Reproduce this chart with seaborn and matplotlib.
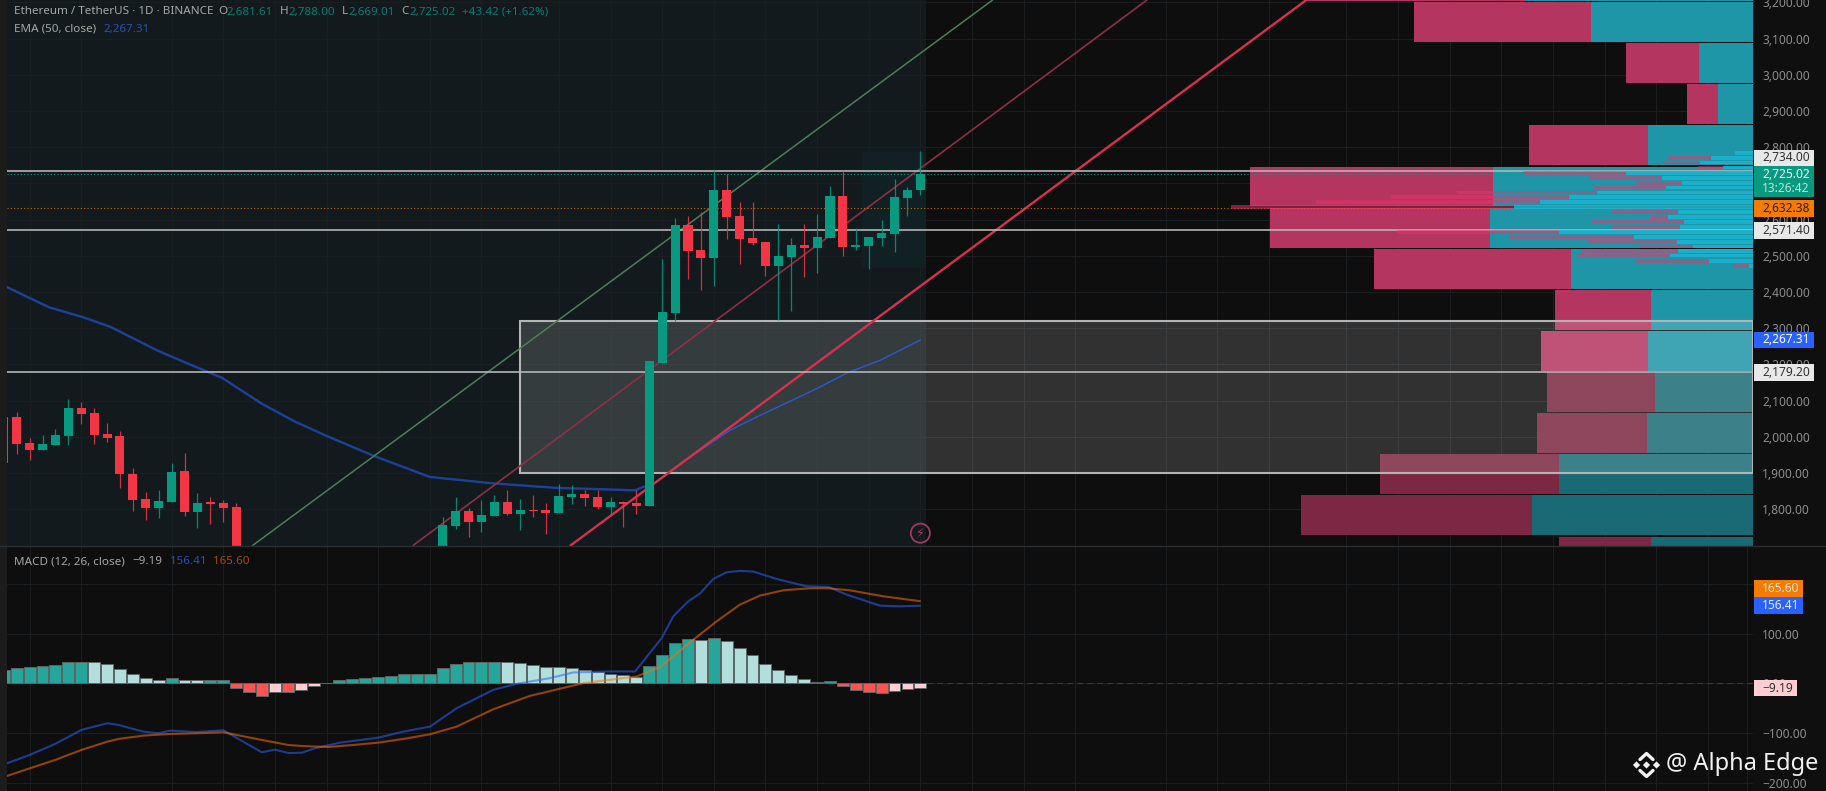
import matplotlib
matplotlib.use("Agg")
import numpy as np
import pandas as pd
import seaborn as sns
import matplotlib.pyplot as plt
from matplotlib.lines import Line2D
from matplotlib.patches import Rectangle, RegularPolygon
from matplotlib.transforms import IdentityTransform

W, H = 1826, 791

# candles (index 18..32 sit below the visible range, so they are left out)
candle_idx = [-1, 0, 1, 2, 3, 4, 5, 6, 7, 8, 9, 10, 11, 12, 13, 14, 15, 16, 17,
              33, 34, 35, 36, 37, 38, 39, 40, 41, 42, 43, 44, 45, 46, 47, 48, 49, 50,
              51, 52, 53, 54, 55, 56, 57, 58, 59, 60, 61, 62, 63, 64, 65, 66, 67, 68, 69, 70]
opens = [1928, 2054, 1983, 1964, 1978, 2003, 2079, 2065, 2007, 2002, 1897, 1828, 1804, 1820, 1905, 1793, 1819, 1817, 1806,
         1670, 1753, 1795, 1764, 1781, 1819, 1787, 1797, 1797, 1790, 1835, 1841, 1835, 1807, 1819, 1817, 1808, 2203,
         2342, 2584, 2515, 2493, 2681, 2609, 2549, 2538, 2471, 2496, 2529, 2521, 2548, 2665, 2524, 2526, 2548, 2559, 2659, 2681.61]
closes = [2054, 1981, 1964, 1980, 2004, 2079, 2063, 2006, 1998, 1896, 1826, 1804, 1822, 1904, 1793, 1817, 1815, 1804, 1650,
          1755, 1795, 1765, 1783, 1819, 1787, 1797, 1795, 1790, 1836, 1841, 1831, 1806, 1820, 1813, 1810, 2208, 2345,
          2584, 2513, 2493, 2681, 2606, 2546, 2535, 2471, 2499, 2529, 2521, 2551, 2665, 2524, 2529, 2551, 2562, 2662, 2681, 2725.02]
highs = [2054, 2068, 1997, 2006, 2022, 2103, 2096, 2080, 2038, 2016, 1913, 1847, 1853, 1927, 1955, 1845, 1833, 1826, 1818,
         1778, 1833, 1804, 1824, 1838, 1854, 1827, 1840, 1818, 1870, 1868, 1852, 1852, 1833, 1822, 1852, 2208, 2492,
         2603, 2609, 2621, 2738, 2725, 2649, 2649, 2538, 2587, 2549, 2587, 2615, 2693, 2734, 2577, 2551, 2600, 2711, 2689, 2788]
lows = [1928, 1953, 1935, 1964, 1978, 1978, 2034, 1981, 1985, 1859, 1796, 1769, 1776, 1820, 1781, 1748, 1760, 1764, 1640,
        1660, 1746, 1723, 1738, 1781, 1783, 1743, 1778, 1732, 1790, 1813, 1810, 1801, 1785, 1750, 1787, 1808, 2203,
        2317, 2435, 2405, 2417, 2546, 2476, 2529, 2444, 2322, 2347, 2442, 2451, 2548, 2499, 2515, 2463, 2526, 2510, 2609, 2669.01]

# EMA 50, heavy part before the breakout and the thin part after it
ema_old_idx = [-0.79, 1.37, 2.56, 5.08, 7.3, 10.86, 12.94, 15.9, 19, 21.5, 23.9, 27.6, 32, 36.7, 41.7, 45.3, 47.9, 48.5, 49.3]
ema_old_val = [2414, 2377, 2357, 2331, 2303, 2239, 2207, 2163, 2091, 2043, 2004, 1948, 1889, 1872, 1859, 1855, 1852, 1861, 1870]
ema_new_idx = [49.3, 52, 55.25, 57.58, 61.97, 64.3, 66.87, 70]
ema_new_val = [1870, 1940, 2018, 2059, 2133, 2176, 2211, 2267.31]

# trend lines: (index, price) at both ends
green_line = ([18.27, 75.6], [1699.7, 3206.4])
thin_red_line = ([30.7, 87.55], [1699.7, 3206.4])
thick_red_line = ([42.9, 99.9], [1699.7, 3206.4])

level_prices = [2734.0, 2571.4, 2179.2]
zone_low, zone_high = 1899, 2319

# volume profile, coarse rows
vp_price = [3259, 3145, 3032, 2919, 2805, 2691, 2577, 2464, 2350, 2237, 2123, 2010, 1897, 1783, 1669]
vp_buy = [228, 161.8, 54, 35, 105, 259.6, 263, 182, 102, 105, 98, 106, 193.7, 221, 102]
vp_sell = [220, 176.8, 72.7, 31, 119.5, 243.4, 220, 197.4, 96.5, 106.7, 107.7, 110.5, 179.7, 231.4, 92.5]
vp_old = [False] * 10 + [True] * 5

# volume profile, fine rows
fine_price = [2784, 2770, 2757, 2743, 2729, 2715, 2701, 2688, 2675, 2662, 2649, 2635,
              2621, 2607, 2593, 2580, 2566, 2552, 2538, 2526, 2513, 2500, 2486, 2472]
fine_buy = [18.4, 42.3, 53.5, 30.3, 127.4, 91, 71, 87, 156, 183.6, 213, 239,
            75, 85.4, 69.5, 73.5, 194, 119.4, 75.9, 60.3, 75, 83, 44.3, 4.4]
fine_sell = [0, 43.9, 36.7, 24.8, 102.6, 71.9, 45.9, 71.9, 140.5, 178, 223.6, 283,
             65.9, 18, 91.4, 67.9, 161.7, 123.8, 89.4, 53.9, 95.8, 91.8, 72.7, 16]

# MACD pane
hist_idx = list(range(-1, 71))
hist_val = [27, 30, 32, 34, 36, 42, 44, 42, 38, 28, 18, 10, 6, 10, 6, 6, 6, 6, -10, -18, -26, -18, -18, -14, -6, 1,
            6, 8, 10, 12, 14, 18, 18, 18, 30, 38, 42, 44, 44, 42, 40, 36, 32, 32, 30, 26, 22, 18, 16, 12,
            34, 57, 81, 89, 87, 91, 85, 71, 57, 38, 26, 16, 8, 2, 4, -6, -14, -18, -20, -16, -12, -9.19]
hist_state = (["g"] * 7 + ["l"] * 6 + ["g"] + ["l"] * 2 + ["g"] * 2 + ["r"] * 3 + ["p"] + ["r"] + ["p"] * 2 + ["l"]
              + ["g"] * 13 + ["l"] * 11 + ["g"] * 4 + ["l"] + ["g"] + ["l"] * 8 + ["g"] + ["r"] * 4 + ["p"] * 3)
macd_idx = [-0.77, 1.0, 2.97, 5.01, 7.02, 7.88, 9.81, 10.97, 11.88, 13.94, 16.01, 18.98, 20.01, 21.04, 22.08, 23.1,
            25.05, 28.02, 29.95, 32.02, 34.08, 36.92, 38.72, 41.3, 43.1, 45.7, 47.9, 49.96, 50.86, 52.02, 52.92,
            53.96, 54.99, 56.02, 57.06, 58.86, 61.19, 62.87, 64.29, 66.87, 68.42, 69.97]
macd_val = [-161.3, -144.4, -122.2, -93.9, -80.5, -83.8, -97.3, -100.7, -95.3, -98, -94.6, -139, -133.7, -140.4, -139.7, -131,
            -119.5, -109.4, -97.3, -87.2, -50.2, -13.1, -1, 10.4, 21.9, 23.9, 23.9, 91.2, 135, 165.3, 180.8,
            210.4, 223.9, 226.6, 225.3, 210.4, 195.6, 194.3, 178.8, 156.6, 155.2, 156.41]
signal_idx = [-0.77, 1.0, 2.97, 5.01, 7.02, 7.88, 9.81, 11.88, 13.94, 16.01, 18.98, 21.04, 22.08, 24.14, 26.08, 28.02,
              29.95, 32.02, 34.08, 36.92, 39.76, 43.89, 45.95, 48.02, 49.83, 52.41, 54.22, 56.02, 57.57, 59.38,
              61.45, 62.87, 64.54, 67.13, 69.97]
signal_val = [-186.9, -171.4, -154.5, -134.3, -117.5, -112.1, -105.4, -102, -100.7, -98.7, -114.1, -124.2, -126.3, -128.3, -124.2, -119.5,
              -112.1, -102.7, -87.2, -52.2, -25.3, 0.4, 7.1, 13.8, 32.7, 87.9, 124.9, 158.6, 176.8, 187.5,
              191.6, 191.6, 187.5, 175.4, 165.6]

grid_idx = [1, 5, 12, 16, 20, 24, 28, 32, 36, 42, 46, 50, 54, 58, 62, 66, 70, 74, 78, 82, 89,
            93, 97, 103, 107, 111, 115, 119, 123, 127, 131, 134]
price_ticks = list(range(1800, 3300, 100))
macd_ticks = [-200, -100, 0, 100, 200]
macd_tick_labels = ["−200.00", "−100.00", "0.00", "100.00", "200.00"]

BG = "#0e0e0e"
TINT = "#121a1d"
GRID = "#1a1e20"
AXIS_TXT = "#8c8c8c"
UP = "#089981"
DOWN = "#f23645"
LEVEL = "#b4b4b4"
X_MIN, X_MAX = -0.79, 134.5
PX_PER_BAR = 12.91
PANE_SPLIT = 545.5

sns.set_theme(style="dark", rc={"axes.facecolor": BG, "figure.facecolor": "#0f0f0f"})
plt.rcParams["font.family"] = ["Noto Sans", "DejaVu Sans"]

fig = plt.figure(figsize=(W / 100, H / 100), dpi=100)
ax = fig.add_axes([6.5 / W, 1 - PANE_SPLIT / H, (1753 - 6.5) / W, PANE_SPLIT / H])
ax2 = fig.add_axes([6.5 / W, 0, (1753 - 6.5) / W, (H - PANE_SPLIT) / H])


def style_axis(a, ticks, labels):
    a.set_xticks(grid_idx)
    a.set_yticks(ticks)
    a.set_yticklabels(labels, color=AXIS_TXT, fontsize=8.6)
    a.yaxis.tick_right()
    a.tick_params(axis="y", length=0, pad=6.5)
    a.tick_params(axis="x", length=0, labelbottom=False)
    a.grid(True, color=GRID, lw=0.8)
    a.set_axisbelow(True)
    a.set(xlabel=None, ylabel=None)
    for s in a.spines.values():
        s.set_visible(False)


# background shading of the date range
ax.axvspan(X_MIN, 70.43, color=TINT, lw=0, zorder=0)
ax.fill_between([65.5, 70.43], 2465, 2786, color="#112023", lw=0, zorder=0.6)

# coarse volume profile, growing from the right edge
buy_w = np.array(vp_buy) / PX_PER_BAR
sell_w = np.array(vp_sell) / PX_PER_BAR
buy_col = ["#1a6a75" if o else "#1f95a8" for o in vp_old]
sell_col = ["#7c2743" if o else "#b33560" for o in vp_old]
ax.barh(vp_price, -buy_w, left=X_MAX, height=109.8, color=buy_col, lw=0, zorder=2)
ax.barh(vp_price, -sell_w, left=X_MAX - buy_w, height=109.8, color=sell_col, lw=0, zorder=2)

# box zone
ax.add_patch(Rectangle((39, zone_low), X_MAX - 39, zone_high - zone_low,
                       facecolor=(1, 1, 1, 0.15), edgecolor=LEVEL, lw=1.5, zorder=3))

# EMA stays under the trend lines
sns.lineplot(x=ema_old_idx, y=ema_old_val, color="#2962ff", alpha=0.55, lw=1.7, ax=ax,
             estimator=None, sort=False, zorder=3.5)
sns.lineplot(x=ema_new_idx, y=ema_new_val, color="#2962ff", alpha=0.75, lw=1.0, ax=ax,
             estimator=None, sort=False, zorder=3.5)

# trend lines and levels
ax.plot(*green_line, color="#4f7d58", lw=1.1, zorder=4)
ax.plot(*thin_red_line, color="#8f2f45", lw=1.2, zorder=4)
ax.plot(*thick_red_line, color="#d6324f", lw=1.7, zorder=4)
for p in level_prices:
    ax.axhline(p, color=LEVEL, lw=1.2, zorder=4)
ax.axhline(closes[-1], color=UP, lw=0.8, ls=(0, (1, 2)), zorder=4)
ax.axhline(2632.38, color="#f57c00", lw=0.8, ls=(0, (1, 2)), alpha=0.8, zorder=4)

# fine volume profile rows on top of the levels
fbuy = np.array(fine_buy) / PX_PER_BAR
fsell = np.array(fine_sell) / PX_PER_BAR
ax.barh(fine_price, -fbuy, left=X_MAX, height=9.5, color="#1ab4cf", alpha=0.9, lw=0, zorder=4.5)
ax.barh(fine_price, -fsell, left=X_MAX - fbuy, height=9.5, color="#f0326e", alpha=0.5, lw=0, zorder=4.5)

# candles
cols = [UP if c >= o else DOWN for o, c in zip(opens, closes)]
ax.vlines(candle_idx, lows, highs, colors=cols, lw=0.9, alpha=0.85, zorder=5)
ax.bar(candle_idx, np.array(closes) - np.array(opens), bottom=opens, width=0.7, color=cols, lw=0, zorder=5.5)

# replay marker
ax.scatter([70], [1733.7], s=190, facecolor="none", edgecolor="#9b3a63", lw=1.3, zorder=6)
ax.text(70, 1733.7, "⚡", color="#9b3a63", fontsize=9, ha="center", va="center",
        family="DejaVu Sans", zorder=6)

style_axis(ax, price_ticks, [f"{p:,.2f}" for p in price_ticks])
ax.set_xlim(X_MIN, X_MAX)
ax.set_ylim(1699.7, 3206.4)

# MACD histogram and lines
hist_df = pd.DataFrame({"idx": hist_idx, "hist": hist_val, "state": hist_state})
sns.barplot(data=hist_df, x="idx", y="hist", hue="state", ax=ax2, native_scale=True, dodge=False,
            palette={"g": "#26a69a", "l": "#b2dfdb", "r": "#ff5252", "p": "#ffcdd2"},
            saturation=1, width=0.92, edgecolor="#5c6666", linewidth=0.7, legend=False, zorder=2)
ax2.axhline(0, color="#3a3a3a", lw=0.8, ls=(0, (5, 4)), zorder=1)
sns.lineplot(x=macd_idx, y=macd_val, color="#2962ff", alpha=0.55, lw=1.5, ax=ax2,
             estimator=None, sort=False, zorder=3)
sns.lineplot(x=signal_idx, y=signal_val, color="#ff6d00", alpha=0.55, lw=1.5, ax=ax2,
             estimator=None, sort=False, zorder=3)
style_axis(ax2, macd_ticks, macd_tick_labels)
ax2.set_xlim(X_MIN, X_MAX)
ax2.set_ylim(-217, 277.8)


def ftext(x, y, s, color, size=8.6, **kw):
    kw.setdefault("va", "center")
    kw.setdefault("ha", "left")
    fig.text(x / W, 1 - y / H, s, color=color, fontsize=size, zorder=7, **kw)


def tag(y0, y1, s, fc, tc, x1=1813.6):
    fig.add_artist(Rectangle((1754 / W, 1 - y1 / H), (x1 - 1754) / W, (y1 - y0) / H,
                             transform=fig.transFigure, fc=fc, lw=0, zorder=6))
    ftext(1762, (y0 + y1) / 2, s, tc)


# left strip and pane separator
fig.add_artist(Rectangle((0, 0), 6.5 / W, 1, transform=fig.transFigure, fc="#1c1c1c", lw=0, zorder=5))
fig.add_artist(Line2D([0, 1], [1 - PANE_SPLIT / H] * 2, transform=fig.transFigure, color="#2a2e30", lw=1, zorder=5))

# header texts
GREY = "#a6a6a6"
TEAL = "#0b7d6e"
HEAD = 8.4
ftext(14, 12, "Ethereum / TetherUS · 1D · BINANCE", GREY, size=HEAD)
for x_k, k, x_v, v in [(218, "O", 226.5, "2,681.61"), (279.8, "H", 288, "2,788.00"),
                       (341.4, "L", 348, "2,669.01"), (401, "C", 409.5, "2,725.02")]:
    ftext(x_k, 12, k, GREY, size=HEAD)
    ftext(x_v, 12, v, TEAL, size=HEAD)
ftext(462.3, 12, "+43.42 (+1.62%)", TEAL, size=HEAD)
ftext(14, 29.3, "EMA (50, close)", GREY, size=HEAD)
ftext(103.7, 29.3, "2,267.31", "#2a4fb0", size=HEAD)
ftext(14, 561.7, "MACD (12, 26, close)", GREY, size=HEAD)
ftext(132.7, 561.7, "−9.19", GREY, size=HEAD)
ftext(170, 561.7, "156.41", "#2a4fb0", size=HEAD)
ftext(212.7, 561.7, "165.60", "#a04a1a", size=HEAD)

# price tags on the axis
tag(149.7, 165.7, "2,734.00", "#e8e8e8", "#333333")
fig.add_artist(Rectangle((1754 / W, 1 - 196.7 / H), (1813.6 - 1754) / W, 30.7 / H,
                         transform=fig.transFigure, fc=UP, lw=0, zorder=6))
ftext(1762, 174, "2,725.02", "#ffffff")
ftext(1762, 188, "13:26:42", "#b8e6dd")
tag(200, 216.7, "2,632.38", "#f57c00", "#2a1a05")
tag(222, 238.7, "2,571.40", "#e8e8e8", "#333333")
tag(331.7, 348, "2,267.31", "#2962ff", "#ffffff")
tag(364, 381, "2,179.20", "#e8e8e8", "#333333")
tag(580, 597, "165.60", "#f57c00", "#f5e6d8", x1=1803)
tag(597, 614, "156.41", "#2962ff", "#e6ecff", x1=1803)
tag(680, 696, "−9.19", "#ffcdd2", "#333333", x1=1797)

# watermark
to_px = IdentityTransform()
for cx in (1636.5, 1646.5, 1656.5):
    fig.add_artist(RegularPolygon((cx, H - 765), 4, radius=3.6, fc="#f2f2f2", lw=0, transform=to_px, zorder=8))
for sign in (1, -1):
    fig.add_artist(Line2D([1640, 1646.5, 1653], [H - 765 + sign * 5.5, H - 765 + sign * 11.5, H - 765 + sign * 5.5],
                          color="#f2f2f2", lw=2.4, transform=to_px, zorder=8))
ftext(1666, 764, "@ Alpha Edge", "#f2f2f2", size=17)

plt.savefig("out.png", dpi=100, facecolor=fig.get_facecolor())
plt.close()
